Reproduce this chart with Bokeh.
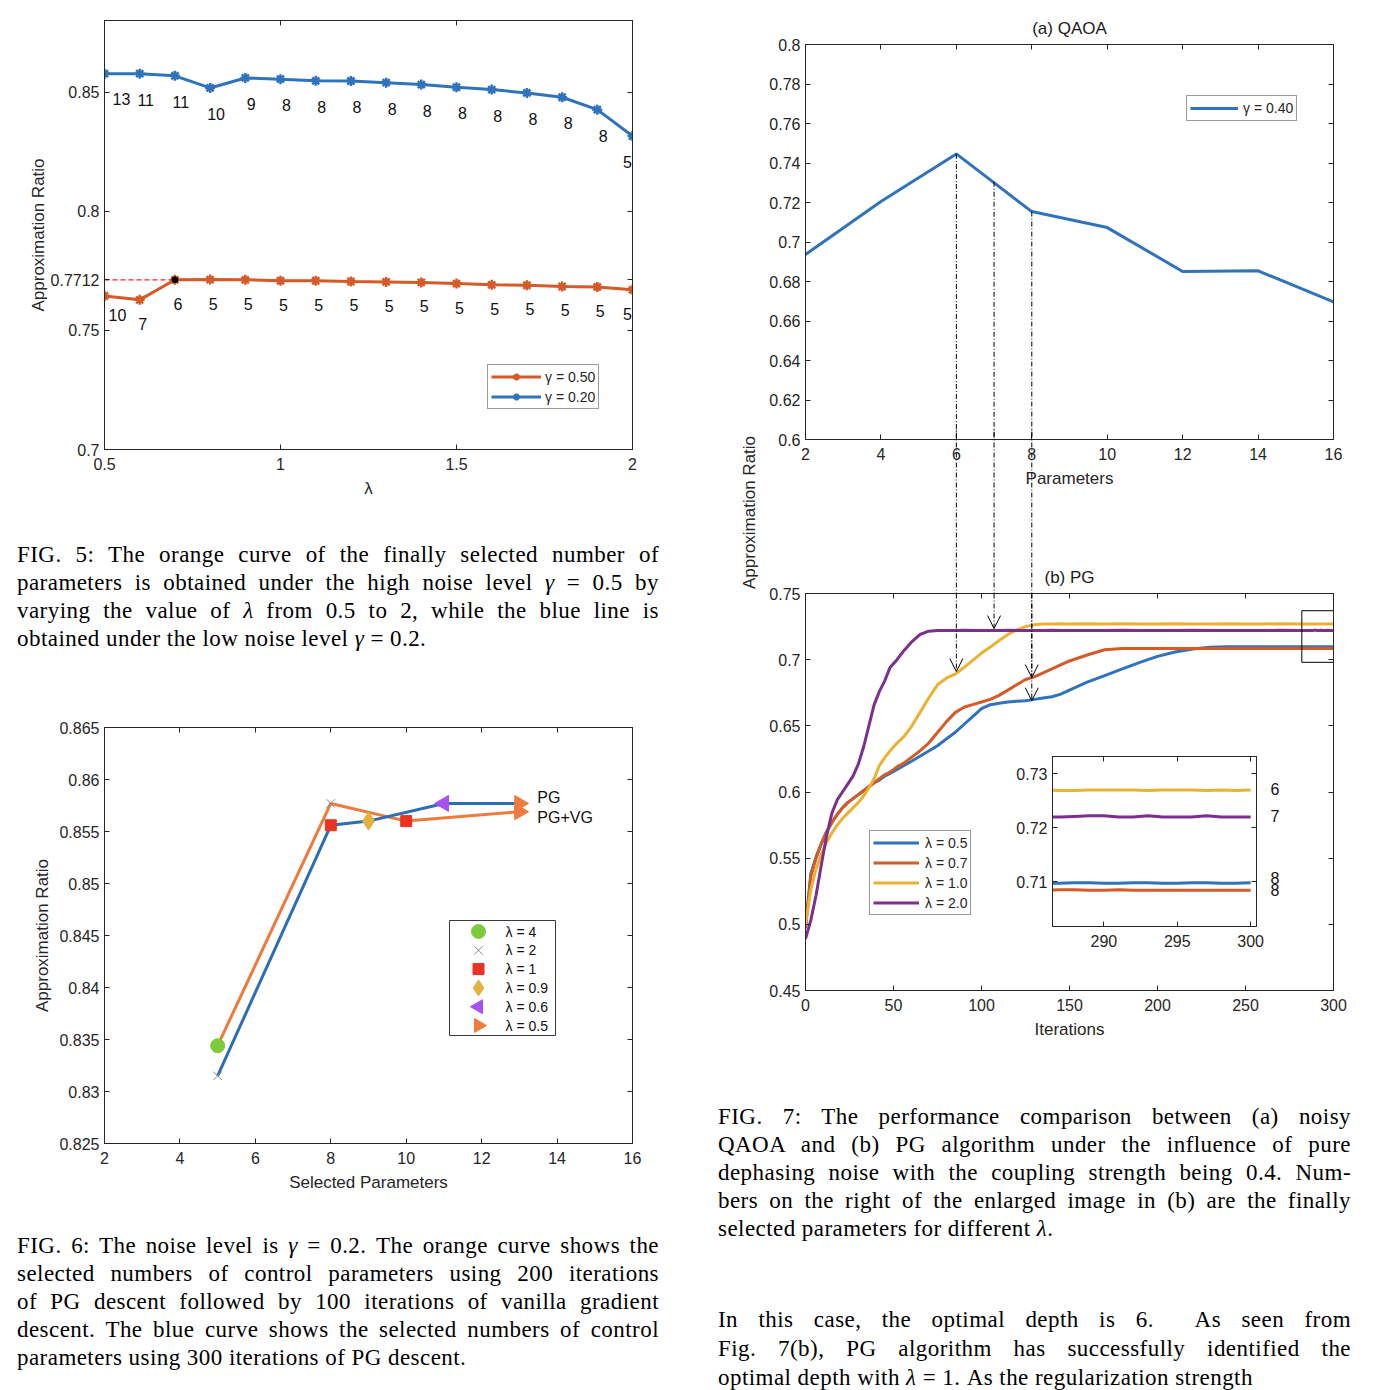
import math
from bokeh.plotting import figure
from bokeh.models import (Range1d, LinearAxis, FixedTicker, CustomJSTickFormatter,
                          Arrow, OpenHead, ColumnDataSource, Div)
from bokeh.layouts import row, column
from bokeh.embed import file_html
from bokeh.resources import INLINE
from bokeh.core.properties import value

# ======================= FIG. 5 data =======================
lam5 = [0.5, 0.6, 0.7, 0.8, 0.9, 1.0, 1.1, 1.2, 1.3, 1.4, 1.5, 1.6, 1.7, 1.8, 1.9, 2.0]
ratio_g050 = [0.7644, 0.7628, 0.7712, 0.7713, 0.7712, 0.7708, 0.7708, 0.7705,
              0.7703, 0.7701, 0.7696, 0.7691, 0.7689, 0.7684, 0.7682, 0.7670]
npar_g050 = [10, 7, 6, 5, 5, 5, 5, 5, 5, 5, 5, 5, 5, 5, 5, 5]
ratio_g020 = [0.8577, 0.8577, 0.8568, 0.8517, 0.8559, 0.8554, 0.8547, 0.8546,
              0.8539, 0.8531, 0.8520, 0.8510, 0.8496, 0.8478, 0.8426, 0.8315]
npar_g020 = [13, 11, 11, 10, 9, 8, 8, 8, 8, 8, 8, 8, 8, 8, 8, 5]
best_lam5 = [0.7]
best_ratio5 = [0.7712]
xticks5 = [0.5, 1, 1.5, 2]
yticks5 = [0.7, 0.75, 0.7712, 0.8, 0.85]

# ======================= FIG. 6 data =======================
pg_npar = [5, 8, 9, 11, 13]
pg_ratio = [0.8315, 0.8556, 0.8560, 0.8577, 0.8577]
pg_lam = ["2", "1", "0.9", "0.6", "0.5"]
pgvg_npar = [5, 8, 10, 13]
pgvg_ratio = [0.8344, 0.8577, 0.8560, 0.8569]
pgvg_lam = ["4", "2", "1", "0.5"]
lam6_order = ["4", "2", "1", "0.9", "0.6", "0.5"]
xticks6 = [2, 4, 6, 8, 10, 12, 14, 16]
yticks6 = [0.825, 0.83, 0.835, 0.84, 0.845, 0.85, 0.855, 0.86, 0.865]

# ======================= FIG. 7 data =======================
qaoa_npar = [2, 4, 6, 8, 10, 12, 14, 16]
qaoa_ratio = [0.6937, 0.7205, 0.7446, 0.7154, 0.7073, 0.6851, 0.6854, 0.6697]
link_npar = [6, 7, 8]
link_top = [0.7446, 0.7305, 0.7154]
tip_npar = [6, 7, 8, 8]
tip_ratio = [0.691, 0.7235, 0.6865, 0.669]

it7 = [0, 3, 6, 9, 12, 15, 18, 21, 24, 27, 30, 33, 36, 39, 42, 45, 48, 52, 56, 60,
       65, 70, 75, 80, 85, 90, 95, 100, 105, 110, 115, 120, 125, 130, 135, 140, 145, 150,
       160, 170, 180, 190, 200, 210, 220, 230, 240, 250, 260, 270, 280,
       286, 287, 288, 289, 290, 291, 292, 293, 294, 295, 296, 297, 298, 299, 300]
pg_l05 = [0.498, 0.538, 0.551, 0.561, 0.570, 0.577, 0.583, 0.588, 0.592, 0.595,
          0.598, 0.601, 0.604, 0.607, 0.609, 0.612, 0.614, 0.617, 0.620, 0.623,
          0.627, 0.631, 0.635, 0.640, 0.645, 0.651, 0.657, 0.663, 0.666, 0.667,
          0.668, 0.6685, 0.669, 0.670, 0.671, 0.672, 0.674, 0.677,
          0.683, 0.688, 0.693, 0.698, 0.7025, 0.7058, 0.7080, 0.7093, 0.7097, 0.7098,
          0.7097, 0.7098, 0.7097,
          0.7097, 0.7097, 0.7098, 0.7098, 0.7097, 0.7097, 0.7098, 0.7098, 0.7097, 0.7097,
          0.7098, 0.7098, 0.7097, 0.7097, 0.7098]
pg_l07 = [0.497, 0.536, 0.550, 0.561, 0.570, 0.577, 0.583, 0.588, 0.592, 0.595,
          0.598, 0.601, 0.604, 0.607, 0.610, 0.613, 0.615, 0.619, 0.622, 0.626,
          0.631, 0.637, 0.645, 0.653, 0.660, 0.664, 0.666, 0.668, 0.670, 0.673,
          0.677, 0.681, 0.685, 0.687, 0.690, 0.693, 0.696, 0.699,
          0.7035, 0.7075, 0.7085, 0.7084, 0.7085, 0.7084, 0.7084, 0.7085, 0.7084, 0.7084,
          0.7085, 0.7084, 0.7084,
          0.7084, 0.7085, 0.7085, 0.7084, 0.7084, 0.7085, 0.7084, 0.7084, 0.7084, 0.7084,
          0.7084, 0.7084, 0.7084, 0.7084, 0.7084]
pg_l10 = [0.500, 0.526, 0.542, 0.553, 0.562, 0.569, 0.575, 0.580, 0.584, 0.588,
          0.592, 0.597, 0.603, 0.610, 0.620, 0.626, 0.631, 0.637, 0.642, 0.649,
          0.660, 0.671, 0.681, 0.686, 0.689, 0.694, 0.6995, 0.705, 0.7095, 0.7145,
          0.719, 0.7225, 0.7250, 0.7263, 0.7269, 0.7270, 0.7271, 0.7270,
          0.7271, 0.7270, 0.7271, 0.7270, 0.7270, 0.7271, 0.7270, 0.7270, 0.7271, 0.7270,
          0.7270, 0.7271, 0.7270,
          0.7270, 0.7269, 0.7269, 0.7270, 0.7270, 0.7270, 0.7270, 0.7269, 0.7270, 0.7270,
          0.7270, 0.7269, 0.7270, 0.7269, 0.7270]
pg_l20 = [0.489, 0.503, 0.522, 0.545, 0.567, 0.584, 0.594, 0.600, 0.606, 0.612,
          0.621, 0.634, 0.650, 0.666, 0.676, 0.684, 0.694, 0.700, 0.707, 0.713,
          0.719, 0.7215, 0.7221, 0.7220, 0.7221, 0.7222, 0.7220, 0.7221, 0.7221, 0.7220,
          0.7222, 0.7221, 0.7220, 0.7221, 0.7221, 0.7222, 0.7220, 0.7221,
          0.7221, 0.7220, 0.7222, 0.7221, 0.7220, 0.7221, 0.7222, 0.7220, 0.7221, 0.7221,
          0.7220, 0.7222, 0.7221,
          0.7220, 0.7220, 0.7221, 0.7222, 0.7222, 0.7220, 0.7220, 0.7222, 0.7220, 0.7220,
          0.7220, 0.7222, 0.7220, 0.7220, 0.7220]
lam7_labels = ["λ = 0.5", "λ = 0.7", "λ = 1.0", "λ = 2.0"]
zoom_iter = [282, 300]
zoom_ratio = [0.698, 0.737]
inset_final = ["6", "7", "8", "8"]
inset_label_ratio = [0.7272, 0.7222, 0.7107, 0.7084]
xticks7a = [2, 4, 6, 8, 10, 12, 14, 16]
yticks7a = [0.6, 0.62, 0.64, 0.66, 0.68, 0.7, 0.72, 0.74, 0.76, 0.78, 0.8]
xticks7b = [0, 50, 100, 150, 200, 250, 300]
yticks7b = [0.45, 0.5, 0.55, 0.6, 0.65, 0.7, 0.75]
xticks_in = [290, 295, 300]
yticks_in = [0.71, 0.72, 0.73]

# ======================= styling =======================
SANS = "Liberation Sans"
SERIF = "Liberation Serif"
AXC = "#262626"
C_BLUE = "#2F73BC"
C_ORNG = "#D45A28"
C_YELL = "#EBB232"
C_PURP = "#7B2F8E"
C6_BLUE = "#2C6DB6"
C6_ORNG = "#EE7A3C"
DASHDOT = "5 2 1 2"
FMT = "return String(parseFloat(tick.toFixed(4)));"
RB_LEFT = 105   # left border shared by the right-hand column plots
RB_RIGHT = 39   # right border shared by the right-hand column plots


def style_axis(ax, ticks, labels=True, standoff=6):
    ax.ticker = FixedTicker(ticks=list(ticks))
    ax.formatter = CustomJSTickFormatter(code=FMT)
    ax.major_tick_in = 5
    ax.major_tick_out = 0
    ax.minor_tick_line_color = None
    ax.axis_line_color = AXC
    ax.major_tick_line_color = AXC
    ax.major_label_text_font = SANS
    ax.major_label_text_color = AXC
    if labels:
        ax.major_label_text_font_size = "16px"
        ax.major_label_standoff = standoff
    else:
        ax.major_label_text_font_size = "1px"
        ax.major_label_text_color = None
        ax.major_label_standoff = 0
    ax.axis_label_text_font = SANS
    ax.axis_label_text_font_size = "17px"
    ax.axis_label_text_font_style = "normal"
    ax.axis_label_text_color = AXC
    ax.axis_label_standoff = 6


def make_fig(fw, fh, xr, yr, bl, br, bt, bb, xt, yt, xlabel=None, ylabel=None,
             title=None, ylab_standoff=6, **extra):
    kw = dict(frame_width=fw, frame_height=fh, x_range=Range1d(*xr), y_range=Range1d(*yr),
              output_backend="svg", toolbar_location=None,
              min_border_left=bl, min_border_right=br,
              min_border_top=bt, min_border_bottom=bb, margin=0)
    kw.update(extra)
    if title is not None:
        kw["title"] = title
    p = figure(**kw)
    p.grid.visible = False
    p.outline_line_color = AXC
    p.background_fill_color = "white"
    p.border_fill_color = "white"
    style_axis(p.xaxis[0], xt, standoff=8)
    style_axis(p.yaxis[0], yt, standoff=5)
    p.yaxis[0].axis_label_standoff = ylab_standoff
    if xlabel:
        p.xaxis[0].axis_label = xlabel
    if ylabel:
        p.yaxis[0].axis_label = ylabel
    ax_r = LinearAxis()
    style_axis(ax_r, yt, labels=False)
    p.add_layout(ax_r, "right")
    ax_t = LinearAxis()
    style_axis(ax_t, xt, labels=False)
    p.add_layout(ax_t, "above")
    if title is not None:
        p.title.text_font = SANS
        p.title.text_font_size = "17px"
        p.title.text_font_style = "normal"
        p.title.text_color = "#1a1a1a"
        p.title.align = "center"
        p.title.standoff = 13
    return p


def style_legend(lg, loc, gw, gh, lh, pad, sp, standoff):
    lg.location = loc
    lg.label_text_font = SANS
    lg.label_text_font_size = "14px"
    lg.label_text_color = AXC
    lg.glyph_width = gw
    lg.glyph_height = gh
    lg.label_height = lh
    lg.padding = pad
    lg.spacing = sp
    lg.margin = 0
    lg.label_standoff = standoff
    lg.border_line_color = "#3a3a3a"
    lg.border_line_width = 1
    lg.background_fill_alpha = 1


# ======================= FIG. 5 =======================
p5 = make_fig(528, 429, (0.5, 2.0), (0.7, 0.88), 96, 16, 12, 59, xticks5, yticks5,
              xlabel="λ", ylabel="Approximation Ratio", ylab_standoff=0)
p5.line(x=[xticks5[0], best_lam5[0]], y=[best_ratio5[0], best_ratio5[0]],
        line_color="#FF2020", line_dash="5 3", line_width=1.3)
common5 = dict(text_align="center", text_baseline="middle", text_font=value(SANS),
               text_font_size="16px", text_color="#111111")
for lam_r, npar, col, lab, xo_first, yo_first, xo_mid, yo in (
        (ratio_g050, npar_g050, C_ORNG, "γ = 0.50", 13, 19, 3, 24),
        (ratio_g020, npar_g020, C_BLUE, "γ = 0.20", 17, 25, 6, 26)):
    p5.line(lam5, lam_r, line_color=col, line_width=3, legend_label=lab)
    p5.scatter(lam5, lam_r, marker="asterisk", size=10, line_color=col, line_width=2.5,
               legend_label=lab)
    txt = [str(n) for n in npar]
    p5.text(x=lam5[:1], y=lam_r[:1], text=txt[:1], x_offset=xo_first, y_offset=yo_first, **common5)
    p5.text(x=lam5[1:-1], y=lam_r[1:-1], text=txt[1:-1], x_offset=xo_mid, y_offset=yo, **common5)
    p5.text(x=lam5[-1:], y=lam_r[-1:], text=txt[-1:], x_offset=-5, y_offset=yo, **common5)
p5.scatter(best_lam5, best_ratio5, size=6, color="black")
style_legend(p5.legend[0], (383, 40), 50, 17, 17, 3, 3, 4)

# ======================= FIG. 6 =======================
p6 = make_fig(528, 416, (2, 16), (0.825, 0.865), 96, 16, 27, 62, xticks6, yticks6,
              xlabel="Selected Parameters", ylabel="Approximation Ratio", ylab_standoff=4)
p6.line(pgvg_npar, pgvg_ratio, line_color=C6_ORNG, line_width=3)
p6.line(pg_npar, pg_ratio, line_color=C6_BLUE, line_width=3)
MK6 = {
    "4": dict(marker="circle", size=14, fill_color="#7CCB3E", line_color="#7CCB3E"),
    "2": dict(marker="x", size=12, line_color="#8A8A8A", line_width=1),
    "1": dict(marker="square", size=11, fill_color="#EA3323", line_color="#EA3323"),
    "0.9": dict(marker="diamond", size=18, fill_color="#E4B03E", line_color="#E4B03E"),
    "0.6": dict(marker="triangle", size=16, angle=math.pi / 2, fill_color="#A652F0",
                line_color="#A652F0"),
    "0.5": dict(marker="triangle", size=16, angle=-math.pi / 2, fill_color="#EE7B3D",
                line_color="#EE7B3D"),
}
for lam in lam6_order:
    xs = [n for n, l in zip(pg_npar, pg_lam) if l == lam] + \
         [n for n, l in zip(pgvg_npar, pgvg_lam) if l == lam]
    ys = [r for r, l in zip(pg_ratio, pg_lam) if l == lam] + \
         [r for r, l in zip(pgvg_ratio, pgvg_lam) if l == lam]
    p6.scatter(xs, ys, **MK6[lam])
tcommon = dict(text_align="left", text_baseline="middle", text_font=value(SANS),
               text_font_size="16px", text_color="#111111")
p6.text(x=pg_npar[-1:], y=pg_ratio[-1:], text=["PG"], x_offset=18, y_offset=-6, **tcommon)
p6.text(x=pgvg_npar[-1:], y=pgvg_ratio[-1:], text=["PG+VG"], x_offset=18, y_offset=6, **tcommon)
# legend box, drawn in frame-pixel space
p6.extra_x_ranges = {"lpx": Range1d(0, 528)}
p6.extra_y_ranges = {"lpy": Range1d(0, 416)}
LB = dict(left=345, right=451, bottom=108, top=223)
p6.quad(left=[LB["left"]], right=[LB["right"]], bottom=[LB["bottom"]], top=[LB["top"]],
        fill_color="white", line_color="#3a3a3a", line_width=1,
        x_range_name="lpx", y_range_name="lpy")
for i, lam in enumerate(lam6_order):
    yy = 212 - 18.8 * i
    mk = dict(MK6[lam])
    mk["size"] = 16 if lam == "0.9" else min(mk["size"], 14)
    p6.scatter([374], [yy], x_range_name="lpx", y_range_name="lpy", **mk)
    p6.text(x=[401], y=[yy], text=["λ = " + lam], x_range_name="lpx", y_range_name="lpy",
            text_align="left", text_baseline="middle", text_font=value(SANS),
            text_font_size="14px", text_color="#111111")

# ======================= FIG. 7 (a) =======================
p7a = make_fig(528, 395, (2, 16), (0.6, 0.8), RB_LEFT, RB_RIGHT, 36, 106, xticks7a, yticks7a,
               xlabel="Parameters", title="(a) QAOA")
p7a.line(qaoa_npar, qaoa_ratio, line_color=C_BLUE, line_width=3, legend_label="γ = 0.40")
style_legend(p7a.legend[0], (381, 318), 48, 18, 18, 3, 0, 5)
src_a = ColumnDataSource(dict(x=link_npar, y0=link_top, y1=[yticks7a[0]] * len(link_npar)))
p7a.segment(x0="x", y0="y0", x1="x", y1="y1", source=src_a, line_color="black",
            line_width=1, line_dash=DASHDOT)

# connector between (a) and (b): transparent plot spanning the gap, carrying the
# shared y-axis title
gap = figure(frame_width=528, frame_height=170, x_range=Range1d(xticks7a[0], xticks7a[-1]),
             y_range=Range1d(0, 1), x_axis_type=None,
             output_backend="svg", toolbar_location=None,
             min_border_left=RB_LEFT, min_border_right=RB_RIGHT, min_border_top=0,
             min_border_bottom=0, margin=(-118, 0, 0, 0))
gap.grid.visible = False
gap.outline_line_color = None
gap.background_fill_alpha = 0
gap.border_fill_alpha = 0
gy = gap.yaxis[0]
gy.ticker = FixedTicker(ticks=[])
gy.axis_line_color = None
gy.major_tick_line_color = None
gy.minor_tick_line_color = None
gy.major_label_text_color = None
gy.major_label_text_font_size = "1px"
gy.major_label_standoff = 0
gy.major_tick_out = 0
gy.major_tick_in = 0
gy.axis_label = "Approximation Ratio"
gy.axis_label_text_font = SANS
gy.axis_label_text_font_size = "17px"
gy.axis_label_text_font_style = "normal"
gy.axis_label_text_color = AXC
gy.axis_label_standoff = 47
gap.segment(x0=link_npar, y0=[0] * len(link_npar), x1=link_npar, y1=[1] * len(link_npar),
            line_color="black", line_width=1, line_dash=DASHDOT)

# ======================= FIG. 7 (b) =======================
p7b = make_fig(528, 397, (0, 300), (0.45, 0.75), RB_LEFT, RB_RIGHT, 48, 60, xticks7b, yticks7b,
               xlabel="Iterations", title="(b) PG", margin=(-52, 0, 0, 0))
p7b.border_fill_alpha = 0
for ys, col, lab in zip((pg_l05, pg_l07, pg_l10, pg_l20), (C_BLUE, C_ORNG, C_YELL, C_PURP),
                        lam7_labels):
    p7b.line(it7, ys, line_color=col, line_width=3, legend_label=lab)
style_legend(p7b.legend[0], (64, 75), 46, 17, 17, 3, 3, 6)
p7b.quad(left=[zoom_iter[0]], right=[zoom_iter[1]], bottom=[zoom_ratio[0]], top=[zoom_ratio[1]],
         fill_color=None, line_color="black", line_width=1)
qa0, qa1 = xticks7a[0], xticks7a[-1]
it0, it1 = xticks7b[0], xticks7b[-1]
tip_iter = [it0 + (n - qa0) / (qa1 - qa0) * (it1 - it0) for n in tip_npar]
src_b = ColumnDataSource(dict(x=tip_iter, y0=[yticks7b[-1]] * len(tip_iter), y1=tip_ratio))
p7b.add_layout(Arrow(end=OpenHead(size=13, line_width=1, line_color="black"),
                     x_start="x", y_start="y0", x_end="x", y_end="y1", source=src_b,
                     line_color="black", line_width=1, line_dash=DASHDOT))

# ======================= inset =======================
pin = make_fig(204, 170, (286.5, 300.4), (0.7017, 0.7332), RB_LEFT, RB_RIGHT, 11, 34,
               xticks_in, yticks_in, margin=(-305, 0, 0, 247))
pin.border_fill_alpha = 0
for ys, col in zip((pg_l05, pg_l07, pg_l10, pg_l20), (C_BLUE, C_ORNG, C_YELL, C_PURP)):
    pin.line(it7, ys, line_color=col, line_width=3)
ax_final = LinearAxis(ticker=FixedTicker(ticks=sorted(inset_label_ratio)),
                      formatter=CustomJSTickFormatter(
                          args=dict(vals=inset_label_ratio, labs=inset_final),
                          code="for (let i = 0; i < vals.length; i++) {"
                               " if (Math.abs(vals[i] - tick) < 1e-7) return labs[i]; }"
                               " return '';"))
ax_final.major_tick_line_color = None
ax_final.minor_tick_line_color = None
ax_final.axis_line_color = None
ax_final.major_label_standoff = 8
ax_final.major_label_text_font = SANS
ax_final.major_label_text_font_size = "16px"
ax_final.major_label_text_color = "#111111"
pin.add_layout(ax_final, "right")

# ======================= captions =======================
def para(lines, lh):
    out = []
    for i, ln in enumerate(lines):
        al = "left" if i == len(lines) - 1 else "justify"
        out.append(f'<div style="text-align:{al};text-align-last:{al};white-space:nowrap;'
                   f'line-height:{lh}px;height:{lh}px;">{ln}</div>')
    return "".join(out)


def caption_div(blocks, width, height, pad_left, inner_w):
    html = (f'<div style="font-family:\'{SERIF}\';font-size:23px;letter-spacing:0.45px;'
            f'color:#000;padding-left:{pad_left}px;width:{inner_w}px;">')
    for top, lines, lh in blocks:
        html += f'<div style="margin-top:{top}px;">' + para(lines, lh) + '</div>'
    html += '</div>'
    return Div(text=html, width=width, height=height, margin=0, styles={"overflow": "hidden"})


cap5 = caption_div([(33, [
    "FIG. 5: The orange curve of the finally selected number of",
    "parameters is obtained under the high noise level <i>γ</i> = 0.5 by",
    "varying the value of <i>λ</i> from 0.5 to 2, while the blue line is",
    "obtained under the low noise level <i>γ</i> = 0.2."], 28)], 692, 192, 9, 651)

cap6 = caption_div([(27, [
    "FIG. 6: The noise level is <i>γ</i> = 0.2. The orange curve shows the",
    "selected numbers of control parameters using 200 iterations",
    "of PG descent followed by 100 iterations of vanilla gradient",
    "descent. The blue curve shows the selected numbers of control",
    "parameters using 300 iterations of PG descent."], 28)], 692, 185, 9, 651)

cap7 = caption_div([
    (143, ["FIG. 7: The performance comparison between (a) noisy",
           "QAOA and (b) PG algorithm under the influence of pure",
           "dephasing noise with the coupling strength being 0.4. Num-",
           "bers on the right of the enlarged image in (b) are the finally",
           "selected parameters for different <i>λ</i>."], 28),
    (62, ["In this case, the optimal depth is 6. &nbsp;As seen from",
          "Fig. 7(b), PG algorithm has successfully identified the",
          "optimal depth with <i>λ</i> = 1. As the regularization strength"], 29)],
    680, 430, 18, 651)

left = column(p5, cap5, p6, cap6, spacing=0)
right = column(p7a, gap, p7b, pin, cap7, spacing=0)
root = row(left, right, spacing=0, margin=(8, 0, 0, 8))

open("out.html", "w").write(file_html(root, INLINE))
